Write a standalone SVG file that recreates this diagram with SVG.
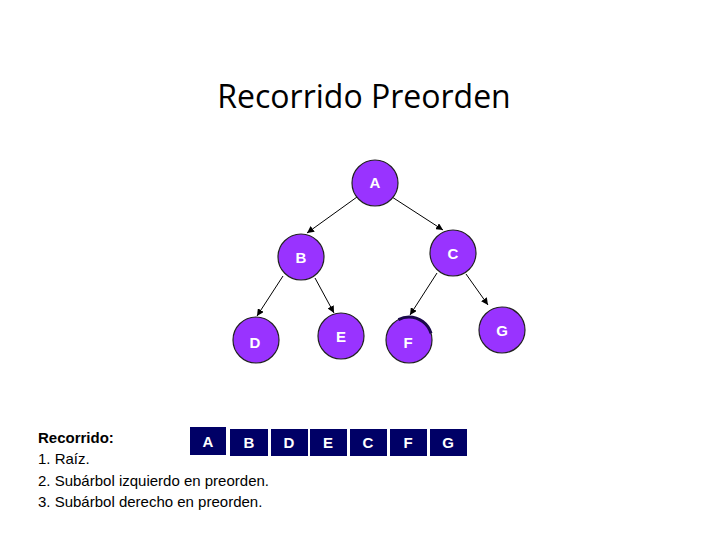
<svg xmlns="http://www.w3.org/2000/svg" width="728" height="546" viewBox="0 0 728 546">
<style>
.n{fill:#9933ff;stroke:#222;stroke-width:1.2}
.nl{font-family:"Liberation Sans",Arial,sans-serif;font-weight:bold;font-size:15px;fill:#fff;text-anchor:middle}
.b{fill:#000066}
.bl{font-family:"Liberation Sans",Arial,sans-serif;font-weight:bold;font-size:15px;fill:#fff;text-anchor:middle}
.t{font-family:"Liberation Sans",Arial,sans-serif;font-size:15px;fill:#000}
.e{stroke:#000;stroke-width:1;fill:none;marker-end:url(#ar)}
</style>
<defs><marker id="ar" viewBox="0 0 10 10" refX="10" refY="5" markerWidth="7" markerHeight="7" orient="auto"><path d="M0,0L10,5L0,10z" fill="#000"/></marker></defs>
<rect width="728" height="546" fill="#fff"/>
<text x="364" y="108" font-family="'Open Sans','Liberation Sans',sans-serif" font-size="32" text-anchor="middle" fill="#000">Recorrido Preorden</text>
<g id="connectors">
<path class="e" d="M357,197L307,233"/>
<path class="e" d="M392,197L443,230"/>
<path class="e" d="M283,276L257,316"/>
<path class="e" d="M315,278L334,313"/>
<path class="e" d="M437,273L410,315"/>
<path class="e" d="M466,274L488,305"/>
</g>
<g id="A"><circle class="n" cx="375" cy="183" r="23"/><text class="nl" x="375" y="188">A</text></g>
<g id="B"><circle class="n" cx="301" cy="257" r="23"/><text class="nl" x="301" y="263">B</text></g>
<g id="C"><circle class="n" cx="453" cy="253" r="23"/><text class="nl" x="453" y="259">C</text></g>
<g id="D"><circle class="n" cx="256" cy="340" r="23"/><text class="nl" x="255" y="348">D</text></g>
<g id="E"><circle class="n" cx="341" cy="336" r="23"/><text class="nl" x="341" y="342">E</text></g>
<g id="F"><circle class="n" cx="409" cy="340" r="23"/><circle cx="409" cy="340" r="23" fill="none" stroke="#1a0a4a" stroke-width="3" stroke-dasharray="0 25 40 200" transform="rotate(180 409 340)"/><text class="nl" x="408" y="348">F</text></g>
<g id="G"><circle class="n" cx="502" cy="330" r="23"/><text class="nl" x="502" y="336">G</text></g>
<g id="sequence">
<rect class="b" x="190" y="427" width="36" height="28"/><text class="bl" x="208" y="447">A</text>
<rect class="b" x="230" y="429" width="38" height="27"/><text class="bl" x="249" y="448">B</text>
<rect class="b" x="271" y="429" width="37" height="27"/><text class="bl" x="289" y="448">D</text>
<rect class="b" x="310" y="429" width="37" height="27"/><text class="bl" x="328" y="448">E</text>
<rect class="b" x="350" y="429" width="37" height="27"/><text class="bl" x="368" y="448">C</text>
<rect class="b" x="390" y="429" width="37" height="27"/><text class="bl" x="408" y="448">F</text>
<rect class="b" x="430" y="429" width="37" height="27"/><text class="bl" x="448" y="448">G</text>
</g>
<text class="t" x="38" y="443" font-weight="bold">Recorrido:</text>
<text class="t" x="38" y="464">1.  Raíz.</text>
<text class="t" x="38" y="486">2.   Subárbol izquierdo en preorden.</text>
<text class="t" x="38" y="507">3.   Subárbol derecho en preorden.</text>
</svg>
